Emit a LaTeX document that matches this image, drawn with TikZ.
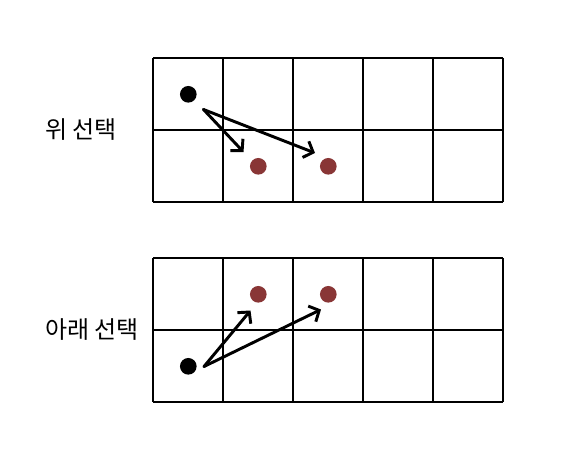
\documentclass[tikz,border=0pt]{standalone}
\usepackage{fontspec}
\newfontfamily\kr{Noto Sans CJK KR}
\usetikzlibrary{arrows.meta}
\definecolor{dotred}{RGB}{137,54,54}
\tikzset{
  gridline/.style={line width=1pt, black},
  blackdot/.style={circle, fill=black, inner sep=0pt, minimum size=12.5pt},
  reddot/.style={circle, fill=dotred, inner sep=0pt, minimum size=12.5pt},
  movearrow/.style={line width=2.2pt, -{Straight Barb[length=6pt,width=13pt,line width=2.2pt]}, line cap=round, line join=miter},
  lbl/.style={font=\kr\fontsize{18pt}{20pt}\selectfont, inner sep=0pt}
}
\begin{document}
\begin{tikzpicture}[x=0.75pt,y=-0.75pt]
\useasboundingbox (0,0) rectangle (566,460);
% grids
\foreach \top in {58,258} {
  \foreach \i in {0,...,5} {
    \draw[gridline] ({153+70*\i},\top) -- ({153+70*\i},{\top+144});
  }
  \foreach \j in {0,1,2} {
    \draw[gridline] (153,{\top+72*\j}) -- (503,{\top+72*\j});
  }
}
% labels
\node[lbl] (l1) at (81,130) {위 선택};
\node[lbl] (l2) at (92,330) {아래 선택};
% top dots
\node[blackdot] (b1) at (188.3,94.3) {};
\node[reddot] (r11) at (258.3,166.3) {};
\node[reddot] (r12) at (328.3,166.3) {};
\coordinate (s1) at (203.5,109.5);
\coordinate (t11) at (243.5,152);
\coordinate (t12) at (315,153);
\draw[movearrow] (s1) -- (t11);
\draw[movearrow] (s1) -- (t12);
% bottom dots
\node[blackdot] (b2) at (188.3,366.3) {};
\node[reddot] (r21) at (258.3,294.3) {};
\node[reddot] (r22) at (328.3,294.3) {};
\coordinate (s2) at (204,366.5);
\coordinate (t21) at (250.5,310.5);
\coordinate (t22) at (321,309.5);
\draw[movearrow] (s2) -- (t21);
\draw[movearrow] (s2) -- (t22);
\end{tikzpicture}
\end{document}
